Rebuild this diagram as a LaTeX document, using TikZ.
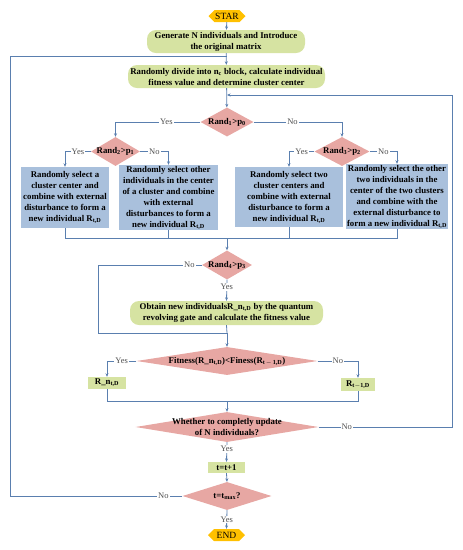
\documentclass[tikz,border=0pt]{standalone}
\usepackage{fontspec}
\setmainfont{Liberation Serif}
\usetikzlibrary{shapes.geometric,shapes.symbols,arrows.meta}
\definecolor{lc}{HTML}{5A7FAF}
\definecolor{gr}{HTML}{D6E3A2}
\definecolor{bl}{HTML}{A9C0DC}
\definecolor{pk}{HTML}{E7A7A3}
\definecolor{og}{HTML}{FFC000}
\definecolor{lg}{HTML}{505050}
\newcommand{\bfnt}{\fontsize{8.8}{11}\selectfont\bfseries}
\newcommand{\sbs}[1]{\textsubscript{#1}}
\tikzset{
  line/.style={draw=lc, line width=0.8pt},
  arr/.style={line, -{Stealth[length=3.5pt,width=3pt]}},
  gbox/.style={fill=gr, rounded corners=9pt, align=center, inner sep=1pt, font=\bfnt},
  bbox/.style={fill=bl, align=center, inner sep=1pt, font=\bfnt},
  sbox/.style={fill=gr, inner sep=1pt, font=\bfnt},
  diam/.style={diamond, fill=pk, inner sep=0pt},
  dtxt/.style={font=\bfnt, align=center, inner sep=0pt},
  term/.style={signal, signal to=east and west, fill=og, inner sep=0pt, minimum width=37pt, minimum height=12pt, font=\fontsize{9.5}{10}\selectfont},
  lab/.style={font=\fontsize{8.5}{9}\selectfont, text=lg, fill=white, inner sep=1pt}
}
\begin{document}
\begin{tikzpicture}[x=1pt,y=-1pt]
\useasboundingbox (0,0) rectangle (463,550);
% nodes
\node[term] (star) at (227,16) {STAR};
\node[gbox, minimum width=158pt, minimum height=23pt] (gen) at (226,41.5) {Generate N individuals and Introduce\\the original matrix};
\node[gbox, minimum width=197pt, minimum height=23pt] (div) at (226.5,76.5) {Randomly divide into n\sbs{c} block, calculate individual\\fitness value and determine cluster center};
\node[diam, minimum width=53pt, minimum height=29pt] (d1) at (227,122) {};
\node[dtxt] (d1t) at (d1) {Rand\sbs{1}>p\sbs{0}};
\node[diam, minimum width=49pt, minimum height=29pt] (d2) at (115.5,151.5) {};
\node[dtxt] (d2t) at (d2) {Rand\sbs{2}>p\sbs{1}};
\node[diam, minimum width=55pt, minimum height=29pt] (d3) at (342,151.5) {};
\node[dtxt] (d3t) at (d3) {Rand\sbs{3}>p\sbs{2}};
\node[bbox, minimum width=88pt, minimum height=61pt] (ba) at (65,197.5) {Randomly select a\\cluster center and\\combine with external\\disturbance to form a\\new individual R\sbs{t,D}};
\node[bbox, minimum width=99pt, minimum height=61pt] (bb) at (168.5,197.5) {Randomly select other\\individuals in the center\\of a cluster and combine\\with external\\disturbances to form a\\new individual R\sbs{t,D}};
\node[bbox, minimum width=108pt, minimum height=60pt] (bc) at (289,197) {Randomly select two\\cluster centers and\\combine with external\\disturbance to form a\\new individual R\sbs{t,D}};
\node[bbox, minimum width=102pt, minimum height=63pt] (bd) at (397,196.5) {Randomly select the other\\two individuals in the\\center of the two clusters\\and combine with the\\external disturbance to\\form a new individual R\sbs{t,D}};
\node[diam, minimum width=50pt, minimum height=29pt] (d4) at (227,265) {};
\node[dtxt] (d4t) at (d4) {Rand\sbs{4}>p\sbs{3}};
\node[gbox, minimum width=193pt, minimum height=24pt] (obt) at (226.5,313) {Obtain new individualsR\_n\sbs{t,D} by the quantum\\revolving gate and calculate the fitness value};
\node[diam, minimum width=181pt, minimum height=28pt] (d5) at (227,361) {};
\node[dtxt] (d5t) at (d5) {Fitness(R\_n\sbs{t,D})<Finess(R\sbs{t\,$-$\,1,D})};
\node[sbox, minimum width=38pt, minimum height=12pt] (rn) at (107,383) {R\_n\sbs{t,D}};
\node[sbox, minimum width=34pt, minimum height=13pt] (rt) at (358,384.5) {R\sbs{t$-$1,D}};
\node[diam, minimum width=183pt, minimum height=30pt] (d6) at (227,427) {};
\node[dtxt] (d6t) at (d6) {Whether to completly update\\of N individuals?};
\node[sbox, minimum width=37pt, minimum height=11pt] (t1) at (226.5,467.5) {t=t+1};
\node[diam, minimum width=89pt, minimum height=28pt] (d7) at (227,496) {};
\node[dtxt] (d7t) at (d7) {t=t\sbs{max}?};
\node[term] (end) at (226.5,535) {END};
% coordinates
\coordinate (j1) at (227,56);
\coordinate (cL1) at (10,496);
\coordinate (cL2) at (10,56);
\coordinate (j2) at (227,95);
\coordinate (cR1) at (452,427);
\coordinate (cR2) at (452,95);
\coordinate (m) at (227,238);
\coordinate (j3) at (227,333);
\coordinate (cA1) at (98,265);
\coordinate (cA2) at (98,333);
\coordinate (j4) at (227,401);
% connectors
\draw[arr] (star) -- (gen);
\draw[arr] (gen) -- (div);
\draw[arr] (div) -- (d1);
\draw[line] (d7.west) -- node[lab,pos=0.11]{No} (cL1) -- (cL2) -- (j1);
\draw[arr] (d6.east) -- node[lab,pos=0.21]{No} (cR1) -- (cR2) -- (j2);
\draw[arr] (d1.west) -| node[lab,pos=0.2]{Yes} (d2.north);
\draw[arr] (d1.east) -| node[lab,pos=0.22]{No} (d3.north);
\draw[arr] (d2.west) -| node[lab,pos=0.25]{Yes} (ba.north);
\draw[arr] (d2.east) -| node[lab,pos=0.25]{No} (bb.north);
\draw[arr] (d3.west) -| node[lab,pos=0.25]{Yes} (bc.north);
\draw[arr] (d3.east) -| node[lab,pos=0.25]{No} (bd.north);
\draw[line] (ba.south) -- (ba.south |- m) -- (bd.south |- m) -- (bd.south);
\draw[line] (bb.south) -- (bb.south |- m);
\draw[line] (bc.south) -- (bc.south |- m);
\draw[arr] (m) -- (d4.north);
\draw[line] (d4.west) -- node[lab,pos=0.12]{No} (cA1) -- (cA2) -- (j3);
\draw[arr] (d4.south) -- node[lab,pos=0.35]{Yes} (obt.north);
\draw[line] (obt.south) -- (j3);
\draw[arr] (j3) -- (d5.north);
\draw[arr] (d5.west) -| node[lab,pos=0.25]{Yes} (rn.north);
\draw[arr] (d5.east) -| node[lab,pos=0.25]{No} (rt.north);
\draw[line] (rn.south) |- (j4);
\draw[line] (rt.south) |- (j4);
\draw[arr] (j4) -- (d6.north);
\draw[arr] (d6.south) -- node[lab,pos=0.35]{Yes} (t1.north);
\draw[arr] (t1.south) -- (d7.north);
\draw[arr] (d7.south) -- node[lab,pos=0.5]{Yes} (end.north);
\end{tikzpicture}
\end{document}
